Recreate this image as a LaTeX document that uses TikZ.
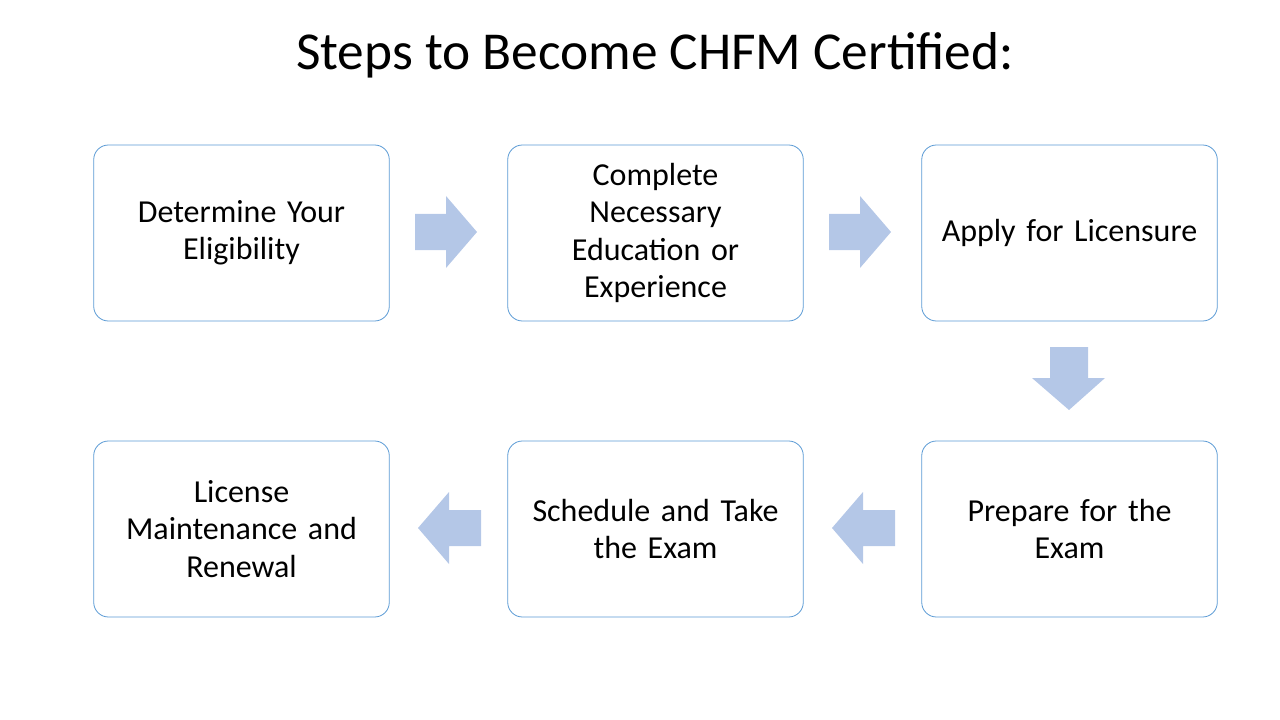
\documentclass[tikz,border=0pt]{standalone}
\usepackage{fontspec}
\setmainfont{Carlito}
\definecolor{bord}{HTML}{5B9BD5}
\definecolor{arr}{HTML}{B4C7E7}
\begin{document}
\begin{tikzpicture}[x=0.75pt,y=-0.75pt,
  stepbox/.style={draw=bord,line width=0.6pt,rounded corners=11pt,fill=white,minimum width=221pt,minimum height=132pt,align=center,font=\fontsize{24}{28}\selectfont,text width=215pt},
  blk/.style={fill=arr,draw=none}]
\useasboundingbox (0,0) rectangle (1280,720);
\node[font=\fontsize{40}{46}\selectfont] (title) at (655,55) {Steps to Become CHFM Certified:};
\node[stepbox] (b1) at (241.5,233) {Determine Your\\Eligibility};
\node[stepbox] (b2) at (655.5,233) {Complete\\Necessary\\Education or\\Experience};
\node[stepbox] (b3) at (1069.5,233) {Apply for Licensure};
\node[stepbox] (b4) at (1069.5,529) {Prepare for the\\Exam};
\node[stepbox] (b5) at (655.5,529) {Schedule and Take\\the Exam};
\node[stepbox] (b6) at (241.5,529) {License\\Maintenance and\\Renewal};
% right arrows
\foreach \x in {415,829}{
  \fill[blk] (\x,214) -- (\x+31,214) -- (\x+31,196) -- (\x+62,232) -- (\x+31,268) -- (\x+31,250) -- (\x,250) -- cycle;}
% down arrow
\fill[blk] (1050,347) -- (1088,347) -- (1088,378) -- (1105,378) -- (1069,410) -- (1032,378) -- (1050,378) -- cycle;
% left arrows
\foreach \x in {418,832}{
  \fill[blk] (\x+63,510) -- (\x+31,510) -- (\x+31,492) -- (\x,528) -- (\x+31,564) -- (\x+31,546) -- (\x+63,546) -- cycle;}
\end{tikzpicture}
\end{document}
